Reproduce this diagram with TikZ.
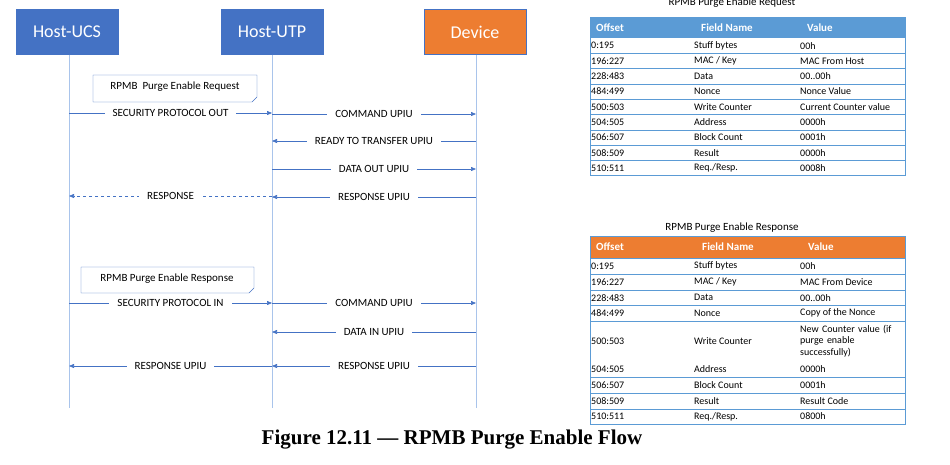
\documentclass[tikz,border=0pt]{standalone}
\usepackage{fontspec}
\setmainfont{Carlito}
\newfontfamily\capfont{Liberation Serif}
\usetikzlibrary{arrows.meta,calc}
\definecolor{boxblue}{HTML}{4472C4}
\definecolor{orng}{HTML}{ED7D31}
\definecolor{lline}{HTML}{A9C4EB}
\definecolor{hblue}{HTML}{5B9BD5}
\begin{document}
\begin{tikzpicture}[x=1pt,y=-1pt,
 actor/.style={draw=boxblue,fill=#1,minimum width=102pt,minimum height=45pt,text=white,font=\fontsize{18}{20}\selectfont,inner sep=0pt},
 life/.style={draw=lline,line width=1pt},
 msg/.style={draw=boxblue,line width=0.6pt,-{Triangle[length=5pt,width=4pt]}},
 lab/.style={fill=white,font=\fontsize{11}{13}\selectfont,inner xsep=8pt,inner ysep=2pt},
 cell/.style={font=\fontsize{10}{11.5}\selectfont,anchor=west,inner sep=0pt},
 hcell/.style={font=\bfseries\fontsize{11}{13}\selectfont,anchor=west,text=white,inner sep=0pt},
 grid/.style={draw=hblue,line width=0.6pt}]
\useasboundingbox (0,0) rectangle (950,464);
% actors
\node[actor=boxblue] (ucs) at (67,32) {Host-UCS};
\node[actor=boxblue] (utp) at (272,32) {Host-UTP};
\node[actor=orng,draw=boxblue] (dev) at (475,32) {Device};
\coordinate (ucsE) at (69,408);
\coordinate (utpE) at (272,408);
\coordinate (devE) at (476,408);
\draw[life] (ucs.south -| ucsE) -- (ucsE);
\draw[life] (utp.south) -- (utpE);
\draw[life] (dev.south -| devE) -- (devE);
% notes
\draw[boxblue,fill=white] (93,75) -- (257,75) -- (257,97) -- (252,102) -- (93,102) -- cycle;
\node[font=\fontsize{11}{13}\selectfont] (n1) at (175,87) {RPMB\ \ Purge Enable Request};
\draw[boxblue,fill=white] (81,267) -- (254,267) -- (254,288) -- (249,293) -- (81,293) -- cycle;
\node[font=\fontsize{11}{13}\selectfont] (n2) at (167,279) {RPMB Purge Enable Response};
% messages
\foreach \y/\a/\b/\t/\s in {
 113/69/272/SECURITY PROTOCOL OUT/solid,
 114/272/476/COMMAND UPIU/solid,
 141/476/272/READY TO TRANSFER UPIU/solid,
 169/272/476/DATA OUT UPIU/solid,
 196/272/69/RESPONSE/dashed,
 197/476/272/RESPONSE UPIU/solid,
 303/69/272/SECURITY PROTOCOL IN/solid,
 303/272/476/COMMAND UPIU/solid,
 332/476/272/DATA IN UPIU/solid,
 366/272/69/RESPONSE UPIU/solid,
 366/476/272/RESPONSE UPIU/solid}{
 \coordinate (s) at (\a,\y); \coordinate (e) at (\b,\y);
 \draw[msg,\s] (s) -- (e);
 \node[lab] at ($(s)!0.5!(e)$) {\t};
}
% caption
\node[font=\capfont\bfseries\fontsize{21}{24}\selectfont] (cap) at (452,440) {Figure 12.11 — RPMB Purge Enable Flow};
% table 1
\node[font=\fontsize{11}{13}\selectfont] (t1) at (732,3) {RPMB Purge Enable Request};
\fill[hblue] (590,17) rectangle (905,38);
\node[hcell] at (596,27.5) {Offset}; \node[hcell] at (701,27.5) {Field Name}; \node[hcell] at (807,27.5) {Value};
\foreach \i/\o/\f/\v in {0/0:195/Stuff bytes/00h,1/196:227/{MAC / Key}/MAC From Host,2/228:483/Data/00..00h,3/484:499/Nonce/Nonce Value,4/500:503/Write Counter/Current Counter value,5/504:505/Address/0000h,6/506:507/Block Count/0001h,7/508:509/Result/0000h,8/510:511/{Req./Resp.}/0008h}{
 \pgfmathsetmacro\yy{38+15.3*\i}
 \node[cell] at (591,\yy+7.6) {\o}; \node[cell] at (694,\yy+7.6) {\f}; \node[cell] at (800,\yy+7.6) {\v};
 \draw[grid] (590,\yy+15.3) -- (905,\yy+15.3);
}
\draw[grid] (590,17) rectangle (905,175.7);
% table 2
\node[font=\fontsize{11}{13}\selectfont] (t2) at (732,228) {RPMB Purge Enable Response};
\fill[orng] (590,236) rectangle (905,258);
\node[hcell] at (596,247) {Offset}; \node[hcell] at (702,247) {Field Name}; \node[hcell] at (808,247) {Value};
\foreach \y/\h/\o/\f/\v in {258/16/0:195/Stuff bytes/00h,274/16/196:227/{MAC / Key}/MAC From Device,290/15.5/228:483/Data/00..00h,305.5/15.5/484:499/Nonce/Copy of the Nonce,361/16/504:505/Address/0000h,377/16/506:507/Block Count/0001h,393/16/508:509/Result/Result Code,409/15/510:511/{Req./Resp.}/0800h}{
 \node[cell] at (591,\y+\h/2) {\o}; \node[cell] at (694,\y+\h/2) {\f}; \node[cell] at (800,\y+\h/2) {\v};
 \draw[grid] (590,\y+\h) -- (905,\y+\h);
}
\node[cell] at (591,341) {500:503}; \node[cell] at (694,341) {Write Counter};
\node[cell,align=left,text width=104pt] at (800,341) {New Counter value (if\\purge enable\\successfully)};
\draw[grid] (590,258) -- (905,258);
\draw[grid] (590,236) rectangle (905,424);
\end{tikzpicture}
\end{document}
